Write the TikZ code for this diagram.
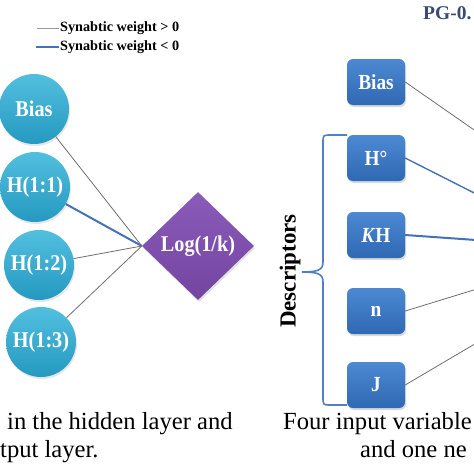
\documentclass[tikz,border=0pt]{standalone}
\usepackage{fontspec}
\setmainfont{Liberation Serif}
\newfontfamily\narrowserif[FakeStretch=0.9]{Liberation Serif}
\usepackage{tikz}
\usetikzlibrary{arrows.meta,positioning,shapes.geometric,shadows}
\definecolor{nnTeal}{HTML}{2599C0}
\definecolor{nnTealLight}{HTML}{52BFDF}
\definecolor{nnBlue}{HTML}{2F68B3}
\definecolor{nnBlueLight}{HTML}{4D89D2}
\definecolor{nnPurple}{HTML}{7344A0}
\definecolor{nnPurpleLight}{HTML}{8A5BB8}
\definecolor{wPos}{HTML}{6E6E6E}
\definecolor{wNeg}{HTML}{4571BA}
\definecolor{braceBlue}{HTML}{4F80C6}
\definecolor{tagNavy}{HTML}{3A4A72}
\tikzset{
  hidden/.style={circle,minimum size=70pt,inner sep=0pt,top color=nnTealLight,bottom color=nnTeal,
    text=white,font=\narrowserif\fontsize{22.5}{24}\selectfont\bfseries,
    drop shadow={opacity=0.2,shadow xshift=1pt,shadow yshift=-2pt}},
  outnode/.style={diamond,minimum width=112pt,minimum height=108pt,inner sep=0pt,
    top color=nnPurpleLight,bottom color=nnPurple,text=white,font=\narrowserif\fontsize{22.5}{24}\selectfont\bfseries,
    drop shadow={opacity=0.25,shadow xshift=1pt,shadow yshift=-2pt}},
  inbox/.style={rectangle,rounded corners=6pt,minimum width=58pt,minimum height=46pt,inner sep=0pt,
    top color=nnBlueLight,bottom color=nnBlue,text=white,font=\narrowserif\fontsize{21.5}{23}\selectfont\bfseries,
    drop shadow={opacity=0.3,shadow xshift=1pt,shadow yshift=-2pt}},
  poswt/.style={draw=wPos,line width=0.8pt},
  negwt/.style={draw=wNeg,line width=2pt},
  legendtext/.style={font=\fontsize{14.2}{16}\selectfont\bfseries,inner sep=1pt},
  desclabel/.style={font=\fontsize{23}{25}\selectfont\bfseries,inner sep=0pt},
  descbrace/.style={draw=braceBlue,line width=1.6pt},
  captext/.style={font=\fontsize{24.6}{28}\selectfont,anchor=base west,inner sep=0pt},
  tagtext/.style={font=\fontsize{19.5}{22}\selectfont\bfseries,text=tagNavy,anchor=base west,inner sep=0pt},
}

\begin{document}
\begin{tikzpicture}[x=1pt,y=-1pt]
  \useasboundingbox (0,0) rectangle (474,474);
  \clip (0,0) rectangle (474,474);

  % legend
  \node[legendtext,anchor=west] (lgpos) at (59,28) {Synabtic weight > 0};
  \node[legendtext,anchor=west] (lgneg) at (59,47) {Synabtic weight < 0};
  \draw[poswt,draw=wPos!70] (lgpos.west) -- ++(-22,0);
  \draw[negwt,line width=2.4pt] (lgneg.west) -- ++(-23,0);

  % hidden layer and output
  \node[hidden] (bias1) at (34,109) {Bias};
  \node[hidden] (h11) at (35,187) {H(1:1)};
  \node[hidden] (h12) at (39,265) {H(1:2)};
  \node[hidden] (h13) at (41,342) {H(1:3)};
  \node[outnode] (logk) at (198,246) {Log(1/k)};

  \draw[poswt] (bias1) -- (logk.west);
  \draw[negwt] (h11) -- (logk.west);
  \draw[poswt] (h12) -- (logk.west);
  \draw[poswt] (h13) -- (logk.west);

  % input layer
  \node[tagtext] (tag) at (423,19) {PG-0.};
  \node[inbox] (bias2) at (376,82) {Bias};
  \node[inbox] (hdeg) at (376,158) {H°};
  \node[inbox] (kh) at (376,235) {\textit{K}H};
  \node[inbox] (nin) at (376,311) {n};
  \node[inbox] (jin) at (376,385) {J};

  \coordinate (t1) at (490,141);
  \coordinate (t2) at (490,201);
  \coordinate (t3) at (490,241);
  \coordinate (t4) at (490,285);
  \coordinate (t5) at (490,335);
  \draw[poswt] (bias2.east) -- (t1);
  \draw[negwt,line width=1.4pt] (hdeg.east) -- (t2);
  \draw[negwt] (kh.east) -- (t3);
  \draw[poswt] (nin.east) -- (t4);
  \draw[poswt] (jin.east) -- (t5);

  % descriptors brace
  \draw[descbrace] (347,135) -- (331,135) .. controls (323,135) .. (323,143) -- (323,262)
    .. controls (323,270) and (318,272) .. (302,272)
    .. controls (318,272) and (323,274) .. (323,282) -- (323,397)
    .. controls (323,405) .. (331,405) -- (347,405);
  \node[desclabel,rotate=90] (desc) at (290,271) {Descriptors};

  % captions
  \node[captext] (capL1) at (7,429) {in the hidden layer and};
  \node[captext] (capL2) at (0,457) {tput layer.};
  \node[captext] (capR1) at (283,429) {Four input variable};
  \node[captext] (capR2) at (360,457) {and one ne};
\end{tikzpicture}
\end{document}
